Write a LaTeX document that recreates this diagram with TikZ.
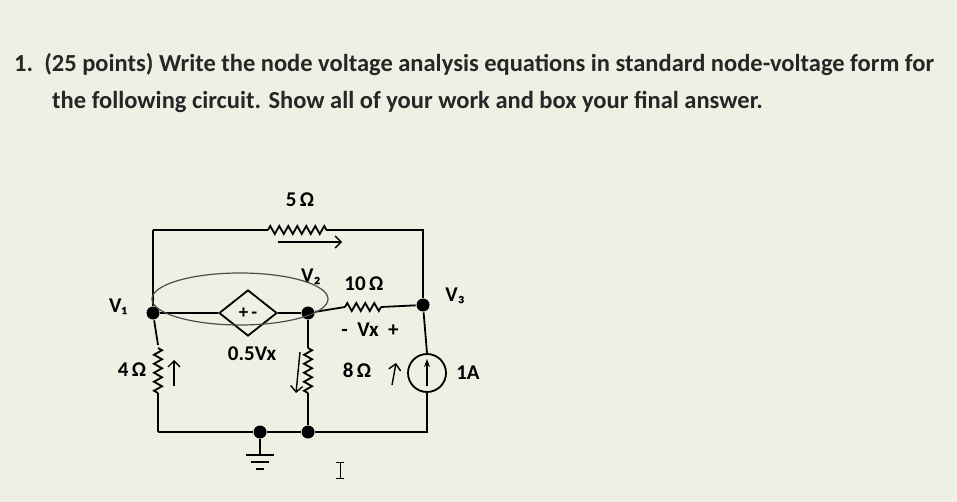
\documentclass[tikz,border=0pt]{standalone}
\usepackage{fontspec}
\setmainfont{Carlito}
\usetikzlibrary{decorations.pathmorphing,arrows.meta,shapes.geometric}
\begin{document}
\begin{tikzpicture}[x=1pt,y=-1pt,line width=1.8pt,
  res/.style={decorate,decoration={zigzag,segment length=9pt,amplitude=4pt}},
  dot/.style={circle,fill,inner sep=0pt,minimum size=13pt},
  lbl/.style={font=\fontsize{21}{23}\selectfont\bfseries},
  ann/.style={line width=1.4pt,-{Straight Barb[length=6pt]}}]
\definecolor{paper}{RGB}{238,240,228}
\useasboundingbox[fill=paper] (0,0) rectangle (957,502);
\node[anchor=west,font=\fontsize{24.5}{28}\selectfont\bfseries,text=black!85] (t1) at (10,64) {1.\ \ (25 points) Write the node voltage analysis equations in standard node-voltage form for};
\node[anchor=west,font=\fontsize{24.5}{28}\selectfont\bfseries,text=black!85] (t2) at (48,102) {the following circuit. Show all of your work and box your final answer.};
% nodes
\node[dot] (v1) at (153,313) {};
\node[dot] (v2) at (308,313) {};
\node[dot] (v3) at (423,305) {};
\node[dot] (g) at (260,432) {};
\node[dot] (b8) at (308,432) {};
\coordinate (tl) at (153,230);
\coordinate (tr) at (423,230);
\coordinate (bl) at (158,432);
\coordinate (br) at (427,432);
\node[diamond,draw,minimum width=58pt,minimum height=46pt,inner sep=0pt,font=\bfseries\fontsize{19}{19}\selectfont] (src) at (248,313) {+\,-};
\node[circle,draw,minimum size=38pt] (cs) at (427,373) {};
\draw[-{Stealth[length=8pt]},line width=2pt] (427,386) -- (427,359);
% wires
\draw (tl) -- (268,230);
\draw[res] (268,230) -- (328,230);
\draw (328,230) -- (tr) -- (v3);
\draw (v1) -- (tl);
\draw (v1) -- (src.west);
\draw (src.east) -- (v2);
\draw (v2) -- (345,307);
\draw[res] (345,307) -- (381,307);
\draw (381,307) -- (v3);
\draw (v3) -- (cs.north);
\draw (cs.south) -- (br) -- (b8) -- (g) -- (bl);
\draw (v1) -- (158,345);
\draw[res] (158,348) -- (158,393);
\draw (158,393) -- (bl);
\draw (v2) -- (308,348);
\draw[res] (308,348) -- (308,393);
\draw (308,393) -- (b8);
% ground
\draw (g) -- (260,455);
\draw (246,455) -- (274,455);
\draw (251,462) -- (269,462);
\draw (256,469) -- (264,469);
% labels
\node[lbl] (l5) at (300,200) {5\,Ω};
\node[lbl] (l10) at (364,284) {10\,Ω};
\node[lbl] (lv2) at (311,277) {V₂};
\node[lbl] (lv1) at (118,307) {V₁};
\node[lbl] (lv3) at (455,296) {V₃};
\node[lbl] (lvx) at (370,330) {-\ \ Vx\ \ +};
\node[lbl] (l4) at (132,370) {4\,Ω};
\node[lbl] (l8) at (357,370) {8\,Ω};
\node[lbl] (l05) at (252,354) {0.5Vx};
\node[lbl] (l1a) at (468,373) {1A};
% annotations
\draw[line width=1.2pt,gray!60!black] (240,299) ellipse (88 and 26);
\draw[ann] (278,242) -- (342,242);
\draw[ann] (174,386) -- (174,360);
\draw[ann] (300,352) -- (296,393);
\draw[ann] (392,385) -- (396,363);
\draw[line width=0.9pt] (336,462)--(344,462) (340,462)--(340,478) (336,478)--(344,478);
\end{tikzpicture}
\end{document}
